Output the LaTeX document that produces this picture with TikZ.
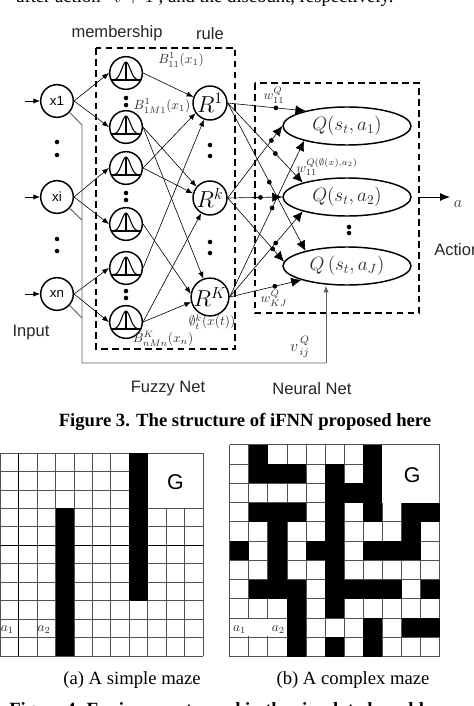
\documentclass[tikz,border=0pt]{standalone}
\usepackage{amsmath,amssymb}
\usepackage{fontspec}
\setmainfont{Liberation Serif}
\setsansfont{Liberation Sans}
\usepackage{tikz}
\usetikzlibrary{positioning,arrows.meta,shapes.geometric}
\definecolor{ink}{HTML}{2E2E2E}
\definecolor{fb}{HTML}{606060}
\definecolor{gridc}{HTML}{505050}
\begin{document}
\begin{tikzpicture}[x=.75pt,y=-.75pt,>=Latex,font=\sffamily]
\tikzstyle{inp}=[draw,circle,line width=1.1pt,minimum size=24.5pt,inner sep=0pt,font=\sffamily\normalsize]
\tikzstyle{mf}=[draw,circle,line width=1.1pt,minimum size=24.5pt,inner sep=0pt,path picture={
  \draw[shift={(path picture bounding box.center)},line width=.8pt] plot[smooth,samples=21,domain=-14:14] (\x,{7-18*exp(-(\x/6)^2)});
  \draw[shift={(path picture bounding box.center)},line width=.8pt] (-16,7) -- (16,7) (0,-11) -- (0,7);}]
\tikzstyle{rl}=[draw,circle,line width=1.1pt,minimum size=25.5pt,inner sep=0pt,font=\LARGE]
\tikzstyle{qn}=[draw,ellipse,line width=1.1pt,minimum width=96pt,minimum height=28.5pt,inner sep=0pt,text=ink,font=\Large]
\tikzstyle{dbox}=[line width=1.1pt,dash pattern=on 5pt off 3.2pt]
\tikzstyle{l}=[line width=.45pt,-{Latex[length=5pt,width=4pt]}]
\tikzstyle{lq}=[line width=.45pt,-{Latex[length=7.5pt,width=7pt]}]
\tikzstyle{fbl}=[fb,line width=.7pt]
\tikzstyle{d}=[fill,circle,inner sep=0pt,minimum size=3.6pt]
\tikzstyle{vd}=[fill,circle,inner sep=0pt,minimum size=3.4pt]
\tikzstyle{lb}=[inner sep=0pt,text=ink,font=\normalsize]
\tikzstyle{tx}=[inner sep=0pt,font=\sffamily\fontsize{12.4}{14}\selectfont,text=black!85]
\tikzstyle{captxt}=[inner sep=0pt,font=\rmfamily\fontsize{14}{16}\selectfont]
\tikzstyle{gl}=[inner sep=0pt,font=\sffamily\fontsize{16}{18}\selectfont]
\useasboundingbox (0,0) rectangle (474,706);
\fill[white] (0,0) rectangle (474,706);
\node[captxt,anchor=base west] (topline) at (16,3) {after action \ \ $t+1$ , and the discount, respectively.};
\draw[dbox] (96,48) rectangle (235,349);
\draw[dbox] (255,83) rectangle (419,313);
\node[inp] (x1) at (57,101) {x1};
\node[inp] (xi) at (57,197) {xi};
\node[inp] (xn) at (57,294) {xn};
\foreach \n/\y in {1/73,2/127,3/168,4/224,5/268,6/322}
  \node[mf] (m\n) at (126,\y) {};
\node[rl] (R1) at (210,103) {$R^1$};
\node[rl] (Rk) at (210,198) {$R^k$};
\node[rl] (RK) at (210,297) {$R^K$};
\node[qn] (Q1) at (347,126) {$Q(s_t,a_1)$};
\node[qn] (Q2) at (347,197) {$Q(s_t,a_2)$};
\node[qn] (QJ) at (347,266) {$Q\left(s_t,a_J\right)$};
\foreach \a in {x1,xi,xn} {
  \coordinate[left=11pt of \a] (\a in);
  \draw[l] (\a in) -- (\a.west);
}
\foreach \a/\b in {x1/m1,x1/m2,xi/m3,xi/m4,xn/m5,xn/m6}
  \draw[l] (\a.east) -- (\b.west);
\foreach \a/\b/\t in {m1/R1/160,m2/Rk/140,m2/RK/110,m3/R1/215,m3/Rk/165,m4/RK/170,m5/R1/-110,m6/Rk/-120,m6/RK/-165}
  \draw[l] (\a.east) -- (\b.\t);
\foreach \a/\b/\p [count=\n] in {R1/Q1.160/.62,R1/Q2.162/.635,R1/QJ.160/.535,Rk/Q1.west/.8,Rk/Q2.west/.6,Rk/QJ.176/.8,RK/Q1.199/.57,RK/Q2.198/.63,RK/QJ.197/.63}
  \draw[lq] (\a.east) -- node[d,pos=\p] (w\n) {} (\b);
\coordinate (fbt) at (82,125);
\coordinate (fbb) at (82,363);
\coordinate (fbr) at (326,363);
\coordinate (fbi) at (82,220);
\coordinate (fbn) at (82,318);
\draw[fbl] (x1.-42) -- (fbt) -- (fbb) -- (fbr);
\draw[fbl] (xi.-42) -- (fbi);
\draw[fbl] (xn.-42) -- (fbn);
\draw[fbl,-{Latex[length=5pt,width=4pt]}] (fbr) -- (fbr |- QJ.south);
\coordinate (outs) at (419,197);
\coordinate (oute) at (450,197);
\draw[line width=.6pt,-{Latex[length=7.5pt,width=6pt]}] (outs) -- (oute);
\foreach \x/\y [count=\n] in {57/142,57/155,57/239,57/251,126/98,126/105,126/193,126/200,126/291,126/298,210/145,210/156,210/242,210/253,349/227,349/233}
  \node[vd] (v\n) at (\x,\y) {};
\node[tx] (membership) at (117,33) {membership};
\node[tx] (rule) at (210,34) {rule};
\node[tx] (input) at (31,333) {Input};
\node[tx] (fuzzy) at (168,389) {Fuzzy Net};
\node[tx,right=50pt of fuzzy] (neural) {Neural Net};
\node[tx,anchor=west] (action) at (434,250) {Action};
\node[lb,font=\large] (alab) at (458,204) {$a$};
\node[lb] (b1) at (181,60) {$B^1_{11}(x_1)$};
\node[lb] (b2) at (162,106) {$B^1_{1M1}(x_1)$};
\node[lb] (b3) at (163,339) {$B^K_{nMn}(x_n)$};
\node[lb] (phi) at (212,322) {$\emptyset^k_t(x(t))$};
\node[lb] (w11) at (274,95) {$w^Q_{11}$};
\node[lb] (w12) at (327,167) {$w^{Q(\emptyset(x),a_2)}_{11}$};
\node[lb] (wKJ) at (274,298) {$w^Q_{KJ}$};
\node[lb,font=\large] (vij) at (300,347) {$v^{\,Q}_{\,ij}$};
\node[captxt,font=\rmfamily\bfseries\fontsize{14}{16}\selectfont] (fig3) at (245,422) {Figure 3. The structure of iFNN proposed here};
\begin{scope}[shift={(.3,453)},x=13.82pt,y=-13.84pt]
\foreach \i in {0,...,11} {
  \draw[gridc,line width=.6pt] (\i,0) -- (\i,11);
  \draw[gridc,line width=.6pt] (0,\i) -- (11,\i);
}
\draw[black,line width=.8pt] (1,0) -- (1,11) (0,5) -- (11,5);
\fill[white] (8,0) rectangle (11,3);
\draw[gridc,line width=.6pt] (8,0) -- (11,0) -- (11,3);
\foreach \r/\c/\w in {3/3/8,0/7/8}
  \fill (\c,\r) rectangle ++(1,\w);
\node[gl] (ga) at (9.5,1.6) {G};
\node[lb] (a1l) at (.38,9.55) {$a_1$};
\node[lb,fill=white] (a2l) at (2.38,9.55) {$a_2$};
\end{scope}
\begin{scope}[shift={(229.7,444.7)},x=14.32pt,y=-14.45pt]
\foreach \i in {0,...,11} {
  \draw[gridc,line width=.6pt] (\i,0) -- (\i,11);
  \draw[gridc,line width=.6pt] (0,\i) -- (11,\i);
}
\fill[white] (8,0) rectangle (11,3);
\draw[gridc,line width=.6pt] (8,0) -- (11,0) -- (11,3);
\fill[white] (.05,9.05) rectangle (2.95,9.95);
\foreach \r/\c/\w in {0/1/1,0/7/1,1/1/3,1/5/1,1/7/1,2/5/3,3/1/3,3/5/1,3/7/1,3/9/2,4/2/1,4/5/1,4/9/1,5/0/1,5/2/1,5/4/2,5/7/3,6/2/1,6/5/1,7/1/3,7/5/4,7/10/1,8/3/1,8/5/1,9/3/1,9/7/1,9/9/2,10/3/1,10/5/1,10/7/1}
  \fill (\c,\r) rectangle ++(\w,1);
\node[gl] (gb) at (9.55,1.58) {G};
\node[lb] (a1r) at (.52,9.6) {$a_1$};
\node[lb] (a2r) at (2.55,9.6) {$a_2$};
\end{scope}
\node[captxt] (capa) at (132,680) {(a) A simple maze};
\node[captxt] (capb) at (353,680) {(b) A complex maze};
\node[captxt,anchor=base west,font=\rmfamily\bfseries\fontsize{14}{16}\selectfont] (fig4) at (9,715) {Figure 4. Environments used in the simulated world};
\end{tikzpicture}
\end{document}
